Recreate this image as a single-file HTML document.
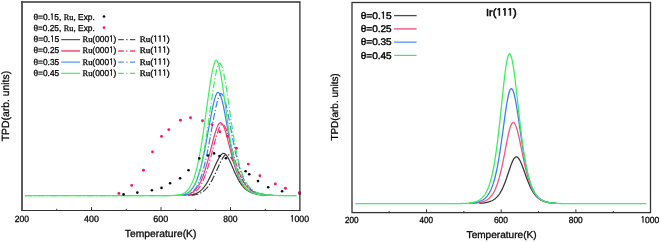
<!DOCTYPE html>
<html><head><meta charset="utf-8"><style>
html,body{margin:0;padding:0;background:#fff;}
svg{display:block;}
text{text-rendering:geometricPrecision;font-family:'Liberation Sans', Arial, sans-serif;fill:#080808;stroke:#080808;stroke-width:0.3px;}
</style></head><body>
<svg width="661" height="242" viewBox="0 0 661 242">
<rect width="661" height="242" fill="#fff"/>
<line x1="56.75" y1="210.4" x2="56.75" y2="208.8" stroke="#333" stroke-width="1"/>
<line x1="91.50" y1="210.4" x2="91.50" y2="207.1" stroke="#333" stroke-width="1"/>
<line x1="126.25" y1="210.4" x2="126.25" y2="208.8" stroke="#333" stroke-width="1"/>
<line x1="161.00" y1="210.4" x2="161.00" y2="207.1" stroke="#333" stroke-width="1"/>
<line x1="195.75" y1="210.4" x2="195.75" y2="208.8" stroke="#333" stroke-width="1"/>
<line x1="230.50" y1="210.4" x2="230.50" y2="207.1" stroke="#333" stroke-width="1"/>
<line x1="265.25" y1="210.4" x2="265.25" y2="208.8" stroke="#333" stroke-width="1"/>
<text transform="translate(14.77,221.90) scale(0.9564,1)" font-size="9.0">200</text>
<text transform="translate(84.12,221.90) scale(0.9800,1)" font-size="9.0">400</text>
<text transform="translate(153.25,221.90) scale(0.9916,1)" font-size="9.0">600</text>
<text transform="translate(223.16,221.90) scale(0.9504,1)" font-size="9.0">800</text>
<text transform="translate(290.05,221.90) scale(0.9729,1)" font-size="9.0"><tspan font-family="IPAGothic, 'Liberation Sans', sans-serif">1</tspan>000</text>
<text transform="translate(124.79,237.20) scale(1.0006,1)" font-size="10.3">Temperature(K)</text>
<text transform="translate(8.60,141.31) rotate(-90) scale(1.0003,1)" font-size="10.4">TPD(arb. units)</text>
<path d="M188.00,195.23 L188.50,195.19 L189.00,195.14 L189.50,195.08 L190.00,195.01 L190.50,194.94 L191.00,194.86 L191.50,194.78 L192.00,194.68 L192.50,194.57 L193.00,194.46 L193.50,194.33 L194.00,194.19 L194.50,194.04 L195.00,193.87 L195.50,193.69 L196.00,193.49 L196.50,193.27 L197.00,193.03 L197.50,192.78 L198.00,192.50 L198.50,192.21 L199.00,191.88 L199.50,191.54 L200.00,191.17 L200.50,190.77 L201.00,190.34 L201.50,189.89 L202.00,189.41 L202.50,188.89 L203.00,188.34 L203.50,187.76 L204.00,187.15 L204.50,186.50 L205.00,185.82 L205.50,185.10 L206.00,184.35 L206.50,183.56 L207.00,182.74 L207.50,181.89 L208.00,181.00 L208.50,180.08 L209.00,179.12 L209.50,178.14 L210.00,177.13 L210.50,176.09 L211.00,175.03 L211.50,173.95 L212.00,172.84 L212.50,171.73 L213.00,170.60 L213.50,169.46 L214.00,168.32 L214.50,167.19 L215.00,166.05 L215.50,164.93 L216.00,163.82 L216.50,162.74 L217.00,161.68 L217.50,160.66 L218.00,159.67 L218.50,158.73 L219.00,157.84 L219.50,157.02 L220.00,156.25 L220.50,155.56 L221.00,154.95 L221.50,154.42 L222.00,153.99 L222.50,153.67 L223.00,153.46 L223.50,153.40 L224.00,153.48 L224.50,153.66 L225.00,153.95 L225.50,154.34 L226.00,154.82 L226.50,155.40 L227.00,156.07 L227.50,156.82 L228.00,157.65 L228.50,158.54 L229.00,159.49 L229.50,160.50 L230.00,161.55 L230.50,162.63 L231.00,163.75 L231.50,164.88 L232.00,166.03 L232.50,167.19 L233.00,168.35 L233.50,169.51 L234.00,170.65 L234.50,171.78 L235.00,172.90 L235.50,173.99 L236.00,175.05 L236.50,176.09 L237.00,177.10 L237.50,178.07 L238.00,179.01 L238.50,179.92 L239.00,180.79 L239.50,181.62 L240.00,182.42 L240.50,183.18 L241.00,183.91 L241.50,184.60 L242.00,185.26 L242.50,185.89 L243.00,186.48 L243.50,187.04 L244.00,187.57 L244.50,188.07 L245.00,188.55 L245.50,188.99 L246.00,189.41 L246.50,189.81 L247.00,190.18 L247.50,190.53 L248.00,190.86 L248.50,191.17 L249.00,191.46 L249.50,191.73 L250.00,191.99 L250.50,192.23 L251.00,192.45 L251.50,192.66 L252.00,192.86 L252.50,193.04 L253.00,193.21 L253.50,193.37 L254.00,193.52 L254.50,193.66 L255.00,193.79 L255.50,193.91 L256.00,194.03 L256.50,194.13 L257.00,194.23 L257.50,194.33 L258.00,194.41 L258.50,194.49 L259.00,194.57 L259.50,194.64 L260.00,194.70 L260.50,194.77 L261.00,194.82 L261.50,194.88 L262.00,194.93 L262.50,194.97 L263.00,195.01 L263.50,195.05 L264.00,195.09 L264.50,195.13 L265.00,195.16 L265.50,195.19 L266.00,195.22 L266.50,195.24" fill="none" stroke="#3a3a3a" stroke-width="1.2"/>
<path d="M191.50,195.23 L192.00,195.19 L192.50,195.13 L193.00,195.08 L193.50,195.01 L194.00,194.94 L194.50,194.86 L195.00,194.77 L195.50,194.68 L196.00,194.57 L196.50,194.46 L197.00,194.33 L197.50,194.19 L198.00,194.03 L198.50,193.87 L199.00,193.68 L199.50,193.48 L200.00,193.27 L200.50,193.03 L201.00,192.78 L201.50,192.50 L202.00,192.21 L202.50,191.89 L203.00,191.54 L203.50,191.18 L204.00,190.78 L204.50,190.36 L205.00,189.91 L205.50,189.42 L206.00,188.91 L206.50,188.37 L207.00,187.79 L207.50,187.18 L208.00,186.54 L208.50,185.87 L209.00,185.16 L209.50,184.41 L210.00,183.63 L210.50,182.82 L211.00,181.97 L211.50,181.10 L212.00,180.19 L212.50,179.24 L213.00,178.27 L213.50,177.28 L214.00,176.25 L214.50,175.21 L215.00,174.14 L215.50,173.06 L216.00,171.96 L216.50,170.85 L217.00,169.74 L217.50,168.62 L218.00,167.50 L218.50,166.39 L219.00,165.29 L219.50,164.21 L220.00,163.15 L220.50,162.12 L221.00,161.12 L221.50,160.17 L222.00,159.25 L222.50,158.39 L223.00,157.59 L223.50,156.86 L224.00,156.19 L224.50,155.61 L225.00,155.11 L225.50,154.71 L226.00,154.41 L226.50,154.24 L227.00,154.21 L227.50,154.30 L228.00,154.48 L228.50,154.76 L229.00,155.13 L229.50,155.58 L230.00,156.13 L230.50,156.75 L231.00,157.45 L231.50,158.21 L232.00,159.04 L232.50,159.92 L233.00,160.85 L233.50,161.83 L234.00,162.84 L234.50,163.87 L235.00,164.93 L235.50,166.01 L236.00,167.10 L236.50,168.19 L237.00,169.28 L237.50,170.36 L238.00,171.44 L238.50,172.50 L239.00,173.54 L239.50,174.56 L240.00,175.56 L240.50,176.53 L241.00,177.48 L241.50,178.39 L242.00,179.28 L242.50,180.13 L243.00,180.96 L243.50,181.75 L244.00,182.50 L244.50,183.23 L245.00,183.92 L245.50,184.59 L246.00,185.22 L246.50,185.82 L247.00,186.39 L247.50,186.93 L248.00,187.44 L248.50,187.93 L249.00,188.39 L249.50,188.83 L250.00,189.24 L250.50,189.63 L251.00,190.00 L251.50,190.34 L252.00,190.67 L252.50,190.98 L253.00,191.27 L253.50,191.54 L254.00,191.80 L254.50,192.04 L255.00,192.26 L255.50,192.48 L256.00,192.68 L256.50,192.86 L257.00,193.04 L257.50,193.20 L258.00,193.36 L258.50,193.50 L259.00,193.64 L259.50,193.76 L260.00,193.88 L260.50,193.99 L261.00,194.10 L261.50,194.20 L262.00,194.29 L262.50,194.37 L263.00,194.45 L263.50,194.53 L264.00,194.60 L264.50,194.66 L265.00,194.73 L265.50,194.78 L266.00,194.84 L266.50,194.89 L267.00,194.93 L267.50,194.98 L268.00,195.02 L268.50,195.06 L269.00,195.09 L269.50,195.13 L270.00,195.16 L270.50,195.19 L271.00,195.21 L271.50,195.24" fill="none" stroke="#3a3a3a" stroke-width="1.2" stroke-dasharray="7,2,1.3,2.1"/>
<path d="M183.00,195.21 L183.50,195.16 L184.00,195.10 L184.50,195.04 L185.00,194.97 L185.50,194.89 L186.00,194.80 L186.50,194.70 L187.00,194.59 L187.50,194.46 L188.00,194.33 L188.50,194.18 L189.00,194.01 L189.50,193.83 L190.00,193.63 L190.50,193.41 L191.00,193.16 L191.50,192.90 L192.00,192.61 L192.50,192.29 L193.00,191.95 L193.50,191.57 L194.00,191.17 L194.50,190.73 L195.00,190.25 L195.50,189.74 L196.00,189.18 L196.50,188.58 L197.00,187.94 L197.50,187.26 L198.00,186.52 L198.50,185.74 L199.00,184.90 L199.50,184.01 L200.00,183.06 L200.50,182.06 L201.00,181.00 L201.50,179.88 L202.00,178.70 L202.50,177.46 L203.00,176.17 L203.50,174.81 L204.00,173.39 L204.50,171.91 L205.00,170.37 L205.50,168.78 L206.00,167.13 L206.50,165.44 L207.00,163.69 L207.50,161.90 L208.00,160.06 L208.50,158.19 L209.00,156.29 L209.50,154.36 L210.00,152.41 L210.50,150.45 L211.00,148.48 L211.50,146.51 L212.00,144.56 L212.50,142.62 L213.00,140.71 L213.50,138.83 L214.00,137.01 L214.50,135.24 L215.00,133.54 L215.50,131.91 L216.00,130.38 L216.50,128.95 L217.00,127.63 L217.50,126.43 L218.00,125.37 L218.50,124.47 L219.00,123.73 L219.50,123.16 L220.00,122.81 L220.50,122.70 L221.00,122.83 L221.50,123.15 L222.00,123.64 L222.50,124.32 L223.00,125.16 L223.50,126.16 L224.00,127.32 L224.50,128.61 L225.00,130.04 L225.50,131.58 L226.00,133.22 L226.50,134.96 L227.00,136.77 L227.50,138.65 L228.00,140.57 L228.50,142.54 L229.00,144.52 L229.50,146.52 L230.00,148.53 L230.50,150.52 L231.00,152.50 L231.50,154.46 L232.00,156.38 L232.50,158.26 L233.00,160.10 L233.50,161.89 L234.00,163.63 L234.50,165.32 L235.00,166.94 L235.50,168.50 L236.00,170.01 L236.50,171.45 L237.00,172.83 L237.50,174.15 L238.00,175.40 L238.50,176.60 L239.00,177.74 L239.50,178.82 L240.00,179.84 L240.50,180.81 L241.00,181.73 L241.50,182.60 L242.00,183.41 L242.50,184.19 L243.00,184.91 L243.50,185.60 L244.00,186.24 L244.50,186.85 L245.00,187.41 L245.50,187.95 L246.00,188.45 L246.50,188.92 L247.00,189.36 L247.50,189.77 L248.00,190.16 L248.50,190.52 L249.00,190.86 L249.50,191.18 L250.00,191.47 L250.50,191.75 L251.00,192.01 L251.50,192.25 L252.00,192.48 L252.50,192.69 L253.00,192.88 L253.50,193.07 L254.00,193.24 L254.50,193.40 L255.00,193.55 L255.50,193.69 L256.00,193.82 L256.50,193.94 L257.00,194.05 L257.50,194.16 L258.00,194.26 L258.50,194.35 L259.00,194.43 L259.50,194.51 L260.00,194.59 L260.50,194.66 L261.00,194.72 L261.50,194.78 L262.00,194.84 L262.50,194.89 L263.00,194.94 L263.50,194.98 L264.00,195.03 L264.50,195.07 L265.00,195.10 L265.50,195.14 L266.00,195.17 L266.50,195.20 L267.00,195.23" fill="none" stroke="#f43a72" stroke-width="1.2"/>
<path d="M184.50,195.25 L185.00,195.20 L185.50,195.15 L186.00,195.09 L186.50,195.02 L187.00,194.95 L187.50,194.87 L188.00,194.78 L188.50,194.67 L189.00,194.56 L189.50,194.44 L190.00,194.30 L190.50,194.14 L191.00,193.97 L191.50,193.79 L192.00,193.58 L192.50,193.36 L193.00,193.11 L193.50,192.84 L194.00,192.55 L194.50,192.23 L195.00,191.88 L195.50,191.50 L196.00,191.09 L196.50,190.64 L197.00,190.16 L197.50,189.64 L198.00,189.08 L198.50,188.48 L199.00,187.84 L199.50,187.15 L200.00,186.41 L200.50,185.62 L201.00,184.78 L201.50,183.88 L202.00,182.93 L202.50,181.93 L203.00,180.87 L203.50,179.75 L204.00,178.57 L204.50,177.34 L205.00,176.04 L205.50,174.69 L206.00,173.27 L206.50,171.80 L207.00,170.28 L207.50,168.69 L208.00,167.06 L208.50,165.38 L209.00,163.65 L209.50,161.88 L210.00,160.06 L210.50,158.22 L211.00,156.34 L211.50,154.45 L212.00,152.53 L212.50,150.61 L213.00,148.68 L213.50,146.76 L214.00,144.85 L214.50,142.96 L215.00,141.10 L215.50,139.28 L216.00,137.51 L216.50,135.80 L217.00,134.17 L217.50,132.61 L218.00,131.15 L218.50,129.79 L219.00,128.54 L219.50,127.42 L220.00,126.45 L220.50,125.62 L221.00,124.96 L221.50,124.49 L222.00,124.23 L222.50,124.23 L223.00,124.41 L223.50,124.76 L224.00,125.27 L224.50,125.94 L225.00,126.76 L225.50,127.73 L226.00,128.83 L226.50,130.05 L227.00,131.39 L227.50,132.84 L228.00,134.38 L228.50,136.00 L229.00,137.70 L229.50,139.45 L230.00,141.25 L230.50,143.08 L231.00,144.94 L231.50,146.82 L232.00,148.70 L232.50,150.58 L233.00,152.45 L233.50,154.30 L234.00,156.12 L234.50,157.91 L235.00,159.66 L235.50,161.38 L236.00,163.05 L236.50,164.67 L237.00,166.24 L237.50,167.75 L238.00,169.21 L238.50,170.62 L239.00,171.97 L239.50,173.27 L240.00,174.51 L240.50,175.69 L241.00,176.83 L241.50,177.90 L242.00,178.93 L242.50,179.90 L243.00,180.83 L243.50,181.71 L244.00,182.54 L244.50,183.32 L245.00,184.07 L245.50,184.77 L246.00,185.43 L246.50,186.06 L247.00,186.65 L247.50,187.21 L248.00,187.73 L248.50,188.23 L249.00,188.69 L249.50,189.13 L250.00,189.54 L250.50,189.92 L251.00,190.28 L251.50,190.62 L252.00,190.94 L252.50,191.24 L253.00,191.52 L253.50,191.78 L254.00,192.03 L254.50,192.26 L255.00,192.48 L255.50,192.68 L256.00,192.87 L256.50,193.05 L257.00,193.21 L257.50,193.37 L258.00,193.51 L258.50,193.65 L259.00,193.78 L259.50,193.90 L260.00,194.01 L260.50,194.11 L261.00,194.21 L261.50,194.30 L262.00,194.39 L262.50,194.47 L263.00,194.54 L263.50,194.61 L264.00,194.67 L264.50,194.74 L265.00,194.79 L265.50,194.85 L266.00,194.90 L266.50,194.94 L267.00,194.99 L267.50,195.03 L268.00,195.06 L268.50,195.10 L269.00,195.13 L269.50,195.16 L270.00,195.19 L270.50,195.22 L271.00,195.24" fill="none" stroke="#f43a72" stroke-width="1.2" stroke-dasharray="7,2,1.3,2.1"/>
<path d="M179.00,195.24 L179.50,195.19 L180.00,195.13 L180.50,195.07 L181.00,195.00 L181.50,194.92 L182.00,194.83 L182.50,194.73 L183.00,194.61 L183.50,194.49 L184.00,194.35 L184.50,194.20 L185.00,194.03 L185.50,193.84 L186.00,193.63 L186.50,193.40 L187.00,193.14 L187.50,192.86 L188.00,192.56 L188.50,192.22 L189.00,191.85 L189.50,191.45 L190.00,191.01 L190.50,190.53 L191.00,190.00 L191.50,189.44 L192.00,188.82 L192.50,188.16 L193.00,187.44 L193.50,186.67 L194.00,185.83 L194.50,184.94 L195.00,183.98 L195.50,182.95 L196.00,181.85 L196.50,180.68 L197.00,179.43 L197.50,178.11 L198.00,176.70 L198.50,175.22 L199.00,173.65 L199.50,172.00 L200.00,170.26 L200.50,168.44 L201.00,166.53 L201.50,164.53 L202.00,162.46 L202.50,160.30 L203.00,158.06 L203.50,155.74 L204.00,153.34 L204.50,150.88 L205.00,148.35 L205.50,145.77 L206.00,143.13 L206.50,140.44 L207.00,137.71 L207.50,134.96 L208.00,132.18 L208.50,129.39 L209.00,126.60 L209.50,123.82 L210.00,121.07 L210.50,118.35 L211.00,115.69 L211.50,113.08 L212.00,110.56 L212.50,108.13 L213.00,105.80 L213.50,103.60 L214.00,101.54 L214.50,99.64 L215.00,97.91 L215.50,96.37 L216.00,95.04 L216.50,93.94 L217.00,93.10 L217.50,92.53 L218.00,92.30 L218.50,92.43 L219.00,92.83 L219.50,93.48 L220.00,94.38 L220.50,95.53 L221.00,96.90 L221.50,98.50 L222.00,100.29 L222.50,102.28 L223.00,104.43 L223.50,106.74 L224.00,109.17 L224.50,111.72 L225.00,114.36 L225.50,117.08 L226.00,119.85 L226.50,122.66 L227.00,125.49 L227.50,128.33 L228.00,131.16 L228.50,133.97 L229.00,136.75 L229.50,139.48 L230.00,142.17 L230.50,144.79 L231.00,147.34 L231.50,149.82 L232.00,152.22 L232.50,154.54 L233.00,156.77 L233.50,158.92 L234.00,160.98 L234.50,162.95 L235.00,164.83 L235.50,166.63 L236.00,168.35 L236.50,169.97 L237.00,171.52 L237.50,172.99 L238.00,174.38 L238.50,175.69 L239.00,176.93 L239.50,178.11 L240.00,179.21 L240.50,180.25 L241.00,181.24 L241.50,182.16 L242.00,183.03 L242.50,183.84 L243.00,184.61 L243.50,185.33 L244.00,186.00 L244.50,186.63 L245.00,187.23 L245.50,187.78 L246.00,188.30 L246.50,188.79 L247.00,189.24 L247.50,189.67 L248.00,190.07 L248.50,190.44 L249.00,190.79 L249.50,191.11 L250.00,191.41 L250.50,191.70 L251.00,191.96 L251.50,192.21 L252.00,192.44 L252.50,192.65 L253.00,192.85 L253.50,193.04 L254.00,193.21 L254.50,193.38 L255.00,193.53 L255.50,193.67 L256.00,193.80 L256.50,193.93 L257.00,194.04 L257.50,194.15 L258.00,194.25 L258.50,194.34 L259.00,194.43 L259.50,194.51 L260.00,194.58 L260.50,194.65 L261.00,194.72 L261.50,194.78 L262.00,194.83 L262.50,194.89 L263.00,194.93 L263.50,194.98 L264.00,195.02 L264.50,195.06 L265.00,195.10 L265.50,195.13 L266.00,195.17 L266.50,195.20 L267.00,195.22 L267.50,195.25" fill="none" stroke="#3f7fef" stroke-width="1.2"/>
<path d="M182.00,195.24 L182.50,195.19 L183.00,195.14 L183.50,195.07 L184.00,195.00 L184.50,194.92 L185.00,194.84 L185.50,194.74 L186.00,194.63 L186.50,194.50 L187.00,194.37 L187.50,194.21 L188.00,194.05 L188.50,193.86 L189.00,193.65 L189.50,193.42 L190.00,193.17 L190.50,192.90 L191.00,192.59 L191.50,192.26 L192.00,191.90 L192.50,191.50 L193.00,191.06 L193.50,190.59 L194.00,190.07 L194.50,189.51 L195.00,188.91 L195.50,188.25 L196.00,187.54 L196.50,186.78 L197.00,185.96 L197.50,185.07 L198.00,184.12 L198.50,183.11 L199.00,182.02 L199.50,180.87 L200.00,179.64 L200.50,178.33 L201.00,176.94 L201.50,175.48 L202.00,173.93 L202.50,172.29 L203.00,170.58 L203.50,168.78 L204.00,166.89 L204.50,164.93 L205.00,162.87 L205.50,160.74 L206.00,158.53 L206.50,156.24 L207.00,153.88 L207.50,151.45 L208.00,148.95 L208.50,146.39 L209.00,143.79 L209.50,141.13 L210.00,138.44 L210.50,135.72 L211.00,132.98 L211.50,130.22 L212.00,127.47 L212.50,124.73 L213.00,122.01 L213.50,119.33 L214.00,116.69 L214.50,114.12 L215.00,111.63 L215.50,109.23 L216.00,106.93 L216.50,104.76 L217.00,102.73 L217.50,100.85 L218.00,99.14 L218.50,97.62 L219.00,96.31 L219.50,95.22 L220.00,94.39 L220.50,93.83 L221.00,93.60 L221.50,93.72 L222.00,94.08 L222.50,94.67 L223.00,95.49 L223.50,96.53 L224.00,97.79 L224.50,99.24 L225.00,100.89 L225.50,102.71 L226.00,104.69 L226.50,106.81 L227.00,109.06 L227.50,111.42 L228.00,113.87 L228.50,116.40 L229.00,119.00 L229.50,121.63 L230.00,124.30 L230.50,126.99 L231.00,129.68 L231.50,132.35 L232.00,135.01 L232.50,137.64 L233.00,140.23 L233.50,142.77 L234.00,145.25 L234.50,147.67 L235.00,150.03 L235.50,152.31 L236.00,154.53 L236.50,156.66 L237.00,158.72 L237.50,160.70 L238.00,162.60 L238.50,164.42 L239.00,166.16 L239.50,167.82 L240.00,169.40 L240.50,170.91 L241.00,172.35 L241.50,173.71 L242.00,175.01 L242.50,176.23 L243.00,177.40 L243.50,178.49 L244.00,179.53 L244.50,180.52 L245.00,181.44 L245.50,182.32 L246.00,183.14 L246.50,183.92 L247.00,184.65 L247.50,185.33 L248.00,185.98 L248.50,186.59 L249.00,187.16 L249.50,187.70 L250.00,188.20 L250.50,188.67 L251.00,189.12 L251.50,189.53 L252.00,189.92 L252.50,190.29 L253.00,190.63 L253.50,190.95 L254.00,191.25 L254.50,191.54 L255.00,191.80 L255.50,192.05 L256.00,192.28 L256.50,192.50 L257.00,192.70 L257.50,192.89 L258.00,193.06 L258.50,193.23 L259.00,193.39 L259.50,193.53 L260.00,193.67 L260.50,193.79 L261.00,193.91 L261.50,194.02 L262.00,194.13 L262.50,194.22 L263.00,194.31 L263.50,194.40 L264.00,194.48 L264.50,194.55 L265.00,194.62 L265.50,194.69 L266.00,194.75 L266.50,194.80 L267.00,194.85 L267.50,194.90 L268.00,194.95 L268.50,194.99 L269.00,195.03 L269.50,195.07 L270.00,195.11 L270.50,195.14 L271.00,195.17 L271.50,195.20 L272.00,195.22 L272.50,195.25" fill="none" stroke="#3f7fef" stroke-width="1.2" stroke-dasharray="7,2,1.3,2.1"/>
<path d="M25.00,195.60 L166.00,195.58 L166.50,195.58 L167.00,195.57 L167.50,195.57 L168.00,195.56 L168.50,195.56 L169.00,195.55 L169.50,195.54 L170.00,195.53 L170.50,195.52 L171.00,195.51 L171.50,195.50 L172.00,195.48 L172.50,195.46 L173.00,195.44 L173.50,195.42 L174.00,195.39 L174.50,195.36 L175.00,195.33 L175.50,195.29 L176.00,195.24 L176.50,195.19 L177.00,195.14 L177.50,195.07 L178.00,195.00 L178.50,194.92 L179.00,194.83 L179.50,194.73 L180.00,194.61 L180.50,194.48 L181.00,194.34 L181.50,194.18 L182.00,194.00 L182.50,193.80 L183.00,193.58 L183.50,193.34 L184.00,193.07 L184.50,192.78 L185.00,192.45 L185.50,192.09 L186.00,191.70 L186.50,191.26 L187.00,190.79 L187.50,190.27 L188.00,189.70 L188.50,189.08 L189.00,188.41 L189.50,187.68 L190.00,186.89 L190.50,186.03 L191.00,185.11 L191.50,184.11 L192.00,183.03 L192.50,181.87 L193.00,180.63 L193.50,179.31 L194.00,177.89 L194.50,176.37 L195.00,174.76 L195.50,173.04 L196.00,171.23 L196.50,169.30 L197.00,167.27 L197.50,165.13 L198.00,162.87 L198.50,160.51 L199.00,158.03 L199.50,155.44 L200.00,152.74 L200.50,149.93 L201.00,147.02 L201.50,144.00 L202.00,140.89 L202.50,137.68 L203.00,134.39 L203.50,131.01 L204.00,127.57 L204.50,124.06 L205.00,120.50 L205.50,116.89 L206.00,113.26 L206.50,109.61 L207.00,105.96 L207.50,102.32 L208.00,98.70 L208.50,95.13 L209.00,91.63 L209.50,88.20 L210.00,84.87 L210.50,81.66 L211.00,78.58 L211.50,75.67 L212.00,72.93 L212.50,70.40 L213.00,68.08 L213.50,66.02 L214.00,64.22 L214.50,62.72 L215.00,61.54 L215.50,60.72 L216.00,60.32 L216.50,60.41 L217.00,60.86 L217.50,61.64 L218.00,62.76 L218.50,64.20 L219.00,65.94 L219.50,67.98 L220.00,70.28 L220.50,72.83 L221.00,75.61 L221.50,78.59 L222.00,81.75 L222.50,85.06 L223.00,88.49 L223.50,92.03 L224.00,95.65 L224.50,99.32 L225.00,103.03 L225.50,106.75 L226.00,110.46 L226.50,114.15 L227.00,117.80 L227.50,121.39 L228.00,124.92 L228.50,128.36 L229.00,131.73 L229.50,134.99 L230.00,138.16 L230.50,141.22 L231.00,144.16 L231.50,147.00 L232.00,149.72 L232.50,152.33 L233.00,154.82 L233.50,157.20 L234.00,159.46 L234.50,161.62 L235.00,163.67 L235.50,165.61 L236.00,167.45 L236.50,169.19 L237.00,170.83 L237.50,172.39 L238.00,173.85 L238.50,175.23 L239.00,176.53 L239.50,177.76 L240.00,178.91 L240.50,179.99 L241.00,181.01 L241.50,181.96 L242.00,182.86 L242.50,183.70 L243.00,184.48 L243.50,185.22 L244.00,185.91 L244.50,186.55 L245.00,187.16 L245.50,187.72 L246.00,188.25 L246.50,188.74 L247.00,189.21 L247.50,189.64 L248.00,190.04 L248.50,190.41 L249.00,190.77 L249.50,191.09 L250.00,191.40 L250.50,191.68 L251.00,191.95 L251.50,192.20 L252.00,192.43 L252.50,192.65 L253.00,192.85 L253.50,193.04 L254.00,193.21 L254.50,193.37 L255.00,193.53 L255.50,193.67 L256.00,193.80 L256.50,193.92 L257.00,194.04 L257.50,194.15 L258.00,194.25 L258.50,194.34 L259.00,194.43 L259.50,194.51 L260.00,194.58 L260.50,194.65 L261.00,194.72 L261.50,194.78 L262.00,194.83 L262.50,194.89 L263.00,194.94 L263.50,194.98 L264.00,195.02 L264.50,195.06 L265.00,195.10 L265.50,195.13 L266.00,195.17 L266.50,195.20 L267.00,195.22 L267.50,195.25 L268.00,195.27 L268.50,195.30 L269.00,195.32 L269.50,195.34 L270.00,195.36 L270.50,195.37 L271.00,195.39 L271.50,195.40 L272.00,195.42 L272.50,195.43 L273.00,195.44 L273.50,195.45 L274.00,195.46 L274.50,195.47 L275.00,195.48 L275.50,195.49 L276.00,195.50 L276.50,195.50 L277.00,195.51 L277.50,195.52 L278.00,195.52 L278.50,195.53 L279.00,195.53 L279.50,195.54 L280.00,195.54 L280.50,195.55 L281.00,195.55 L281.50,195.55 L282.00,195.56 L282.50,195.56 L283.00,195.56 L283.50,195.56 L284.00,195.57 L284.50,195.57 L285.00,195.57 L285.50,195.57 L286.00,195.58 L286.50,195.58 L287.00,195.58 L287.50,195.58 L288.00,195.58 L296.50,195.59" fill="none" stroke="#3cef5e" stroke-width="1.2"/>
<path d="M25.00,195.60 L169.50,195.58 L170.00,195.58 L170.50,195.57 L171.00,195.57 L171.50,195.57 L172.00,195.56 L172.50,195.55 L173.00,195.55 L173.50,195.54 L174.00,195.53 L174.50,195.51 L175.00,195.50 L175.50,195.49 L176.00,195.47 L176.50,195.45 L177.00,195.42 L177.50,195.40 L178.00,195.37 L178.50,195.33 L179.00,195.30 L179.50,195.25 L180.00,195.20 L180.50,195.15 L181.00,195.08 L181.50,195.01 L182.00,194.93 L182.50,194.84 L183.00,194.74 L183.50,194.63 L184.00,194.51 L184.50,194.37 L185.00,194.21 L185.50,194.04 L186.00,193.84 L186.50,193.63 L187.00,193.39 L187.50,193.13 L188.00,192.84 L188.50,192.52 L189.00,192.17 L189.50,191.78 L190.00,191.36 L190.50,190.89 L191.00,190.38 L191.50,189.83 L192.00,189.22 L192.50,188.57 L193.00,187.85 L193.50,187.08 L194.00,186.24 L194.50,185.33 L195.00,184.35 L195.50,183.30 L196.00,182.17 L196.50,180.96 L197.00,179.66 L197.50,178.27 L198.00,176.78 L198.50,175.21 L199.00,173.53 L199.50,171.75 L200.00,169.87 L200.50,167.88 L201.00,165.78 L201.50,163.58 L202.00,161.26 L202.50,158.84 L203.00,156.30 L203.50,153.66 L204.00,150.91 L204.50,148.06 L205.00,145.11 L205.50,142.06 L206.00,138.92 L206.50,135.70 L207.00,132.40 L207.50,129.03 L208.00,125.59 L208.50,122.11 L209.00,118.58 L209.50,115.03 L210.00,111.45 L210.50,107.88 L211.00,104.32 L211.50,100.78 L212.00,97.29 L212.50,93.85 L213.00,90.50 L213.50,87.24 L214.00,84.10 L214.50,81.09 L215.00,78.24 L215.50,75.56 L216.00,73.08 L216.50,70.82 L217.00,68.79 L217.50,67.04 L218.00,65.56 L218.50,64.41 L219.00,63.61 L219.50,63.22 L220.00,63.30 L220.50,63.70 L221.00,64.41 L221.50,65.42 L222.00,66.71 L222.50,68.29 L223.00,70.13 L223.50,72.22 L224.00,74.53 L224.50,77.06 L225.00,79.78 L225.50,82.67 L226.00,85.70 L226.50,88.87 L227.00,92.14 L227.50,95.49 L228.00,98.90 L228.50,102.36 L229.00,105.84 L229.50,109.33 L230.00,112.81 L230.50,116.27 L231.00,119.69 L231.50,123.06 L232.00,126.37 L232.50,129.60 L233.00,132.77 L233.50,135.84 L234.00,138.83 L234.50,141.72 L235.00,144.51 L235.50,147.20 L236.00,149.79 L236.50,152.28 L237.00,154.66 L237.50,156.94 L238.00,159.12 L238.50,161.19 L239.00,163.17 L239.50,165.05 L240.00,166.84 L240.50,168.54 L241.00,170.15 L241.50,171.67 L242.00,173.12 L242.50,174.48 L243.00,175.77 L243.50,176.99 L244.00,178.14 L244.50,179.22 L245.00,180.24 L245.50,181.20 L246.00,182.10 L246.50,182.95 L247.00,183.75 L247.50,184.50 L248.00,185.21 L248.50,185.87 L249.00,186.49 L249.50,187.07 L250.00,187.62 L250.50,188.13 L251.00,188.61 L251.50,189.07 L252.00,189.49 L252.50,189.88 L253.00,190.25 L253.50,190.60 L254.00,190.93 L254.50,191.23 L255.00,191.52 L255.50,191.78 L256.00,192.03 L256.50,192.26 L257.00,192.48 L257.50,192.69 L258.00,192.88 L258.50,193.06 L259.00,193.22 L259.50,193.38 L260.00,193.52 L260.50,193.66 L261.00,193.79 L261.50,193.91 L262.00,194.02 L262.50,194.12 L263.00,194.22 L263.50,194.31 L264.00,194.40 L264.50,194.48 L265.00,194.55 L265.50,194.62 L266.00,194.68 L266.50,194.74 L267.00,194.80 L267.50,194.85 L268.00,194.90 L268.50,194.95 L269.00,194.99 L269.50,195.03 L270.00,195.07 L270.50,195.10 L271.00,195.14 L271.50,195.17 L272.00,195.20 L272.50,195.22 L273.00,195.25 L273.50,195.27 L274.00,195.29 L274.50,195.31 L275.00,195.33 L275.50,195.35 L276.00,195.37 L276.50,195.38 L277.00,195.40 L277.50,195.41 L278.00,195.42 L278.50,195.43 L279.00,195.45 L279.50,195.46 L280.00,195.46 L280.50,195.47 L281.00,195.48 L281.50,195.49 L282.00,195.50 L282.50,195.50 L283.00,195.51 L283.50,195.52 L284.00,195.52 L284.50,195.53 L285.00,195.53 L285.50,195.54 L286.00,195.54 L286.50,195.54 L287.00,195.55 L287.50,195.55 L288.00,195.55 L288.50,195.56 L289.00,195.56 L289.50,195.56 L290.00,195.57 L290.50,195.57 L291.00,195.57 L291.50,195.57 L292.00,195.57 L292.50,195.58 L293.00,195.58 L293.50,195.58 L294.00,195.58 L296.50,195.59" fill="none" stroke="#3cef5e" stroke-width="1.2" stroke-dasharray="7,2,1.3,2.1"/>
<circle cx="123.6" cy="194.4" r="1.3" fill="#0a0a1e"/>
<circle cx="137.3" cy="192.6" r="1.3" fill="#0a0a1e"/>
<circle cx="151.9" cy="190.3" r="1.3" fill="#0a0a1e"/>
<circle cx="161.5" cy="187.9" r="1.3" fill="#0a0a1e"/>
<circle cx="170.1" cy="183.3" r="1.3" fill="#0a0a1e"/>
<circle cx="180.1" cy="178.3" r="1.3" fill="#0a0a1e"/>
<circle cx="188.5" cy="170.3" r="1.3" fill="#0a0a1e"/>
<circle cx="199.3" cy="158.4" r="1.3" fill="#0a0a1e"/>
<circle cx="208" cy="155.5" r="1.3" fill="#0a0a1e"/>
<circle cx="214.1" cy="153.4" r="1.3" fill="#0a0a1e"/>
<circle cx="219.5" cy="156" r="1.3" fill="#0a0a1e"/>
<circle cx="225.9" cy="158.3" r="1.3" fill="#0a0a1e"/>
<circle cx="245.6" cy="171.2" r="1.3" fill="#0a0a1e"/>
<circle cx="249.2" cy="174.2" r="1.3" fill="#0a0a1e"/>
<circle cx="258" cy="181.1" r="1.3" fill="#0a0a1e"/>
<circle cx="268.2" cy="187.2" r="1.3" fill="#0a0a1e"/>
<circle cx="282.1" cy="191.3" r="1.3" fill="#0a0a1e"/>
<circle cx="299.5" cy="193.6" r="1.3" fill="#0a0a1e"/>
<circle cx="118.9" cy="193.5" r="1.45" fill="#f81862"/>
<circle cx="131.7" cy="185.4" r="1.45" fill="#f81862"/>
<circle cx="143.5" cy="170.2" r="1.45" fill="#f81862"/>
<circle cx="152.5" cy="151.9" r="1.45" fill="#f81862"/>
<circle cx="161.5" cy="136.4" r="1.45" fill="#f81862"/>
<circle cx="168.8" cy="129.6" r="1.45" fill="#f81862"/>
<circle cx="180.4" cy="120.2" r="1.45" fill="#f81862"/>
<circle cx="190.5" cy="117.7" r="1.45" fill="#f81862"/>
<circle cx="202.5" cy="120.7" r="1.45" fill="#f81862"/>
<circle cx="212.1" cy="124.6" r="1.45" fill="#f81862"/>
<circle cx="219.9" cy="131.7" r="1.45" fill="#f81862"/>
<circle cx="227.6" cy="136.1" r="1.45" fill="#f81862"/>
<circle cx="236.4" cy="148.3" r="1.45" fill="#f81862"/>
<circle cx="248.3" cy="164.1" r="1.45" fill="#f81862"/>
<circle cx="259.9" cy="175.8" r="1.45" fill="#f81862"/>
<circle cx="275.3" cy="183.9" r="1.45" fill="#f81862"/>
<circle cx="285.4" cy="188.2" r="1.45" fill="#f81862"/>
<circle cx="299.4" cy="192.8" r="1.45" fill="#f81862"/>
<path d="M21.1,2 H300.6 M299.9,1.3 V211" fill="none" stroke="#333" stroke-width="1.3"/>
<path d="M300.5,210.45 H21.1" fill="none" stroke="#333" stroke-width="1.15"/>
<line x1="22" y1="1.3" x2="22" y2="211" stroke="#4a4a4a" stroke-width="1.8"/>
<text transform="translate(33.38,19.60) scale(0.9831,1)" font-size="8.6">θ=0.<tspan font-family="IPAGothic, 'Liberation Sans', sans-serif">1</tspan>5,</text>
<text transform="translate(63.75,19.60) scale(0.9617,1)" font-size="8.6"><tspan font-family="'Liberation Serif', 'Times New Roman', serif">Ru</tspan>,</text>
<text transform="translate(78.03,19.60) scale(0.9785,1)" font-size="8.6">Exp.</text>
<circle cx="104" cy="16.50" r="1.35" fill="#0a0a1e"/>
<text transform="translate(33.39,30.80) scale(0.9648,1)" font-size="8.6">θ=0.25,</text>
<text transform="translate(63.75,30.80) scale(0.9617,1)" font-size="8.6"><tspan font-family="'Liberation Serif', 'Times New Roman', serif">Ru</tspan>,</text>
<text transform="translate(78.03,30.80) scale(0.9785,1)" font-size="8.6">Exp.</text>
<circle cx="104" cy="27.70" r="1.35" fill="#f81862"/>
<text transform="translate(33.48,42.10) scale(0.9848,1)" font-size="8.6">θ=0.<tspan font-family="IPAGothic, 'Liberation Sans', sans-serif">1</tspan>5</text>
<line x1="61.2" y1="39.70" x2="80" y2="39.70" stroke="#222222" stroke-width="0.95"/>
<text transform="translate(82.55,42.10) scale(0.9784,1)" font-size="8.6"><tspan font-family="'Liberation Serif', 'Times New Roman', serif">Ru</tspan>(000<tspan font-family="IPAGothic, 'Liberation Sans', sans-serif">1</tspan>)</text>
<line x1="118.2" y1="39.70" x2="135.3" y2="39.70" stroke="#222222" stroke-width="0.95" stroke-dasharray="5.6,2.4,1.3,2.5"/>
<text transform="translate(139.73,42.10) scale(1.0515,1)" font-size="8.6"><tspan font-family="'Liberation Serif', 'Times New Roman', serif">Ru</tspan>(<tspan font-family="IPAGothic, 'Liberation Sans', sans-serif">111</tspan>)</text>
<text transform="translate(33.48,53.30) scale(0.9683,1)" font-size="8.6">θ=0.25</text>
<line x1="61.2" y1="50.90" x2="80" y2="50.90" stroke="#f27592" stroke-width="2.0"/>
<text transform="translate(82.55,53.30) scale(0.9784,1)" font-size="8.6"><tspan font-family="'Liberation Serif', 'Times New Roman', serif">Ru</tspan>(000<tspan font-family="IPAGothic, 'Liberation Sans', sans-serif">1</tspan>)</text>
<line x1="118.2" y1="50.90" x2="135.3" y2="50.90" stroke="#f27592" stroke-width="2.0" stroke-dasharray="5.6,2.4,1.3,2.5"/>
<text transform="translate(139.73,53.30) scale(1.0515,1)" font-size="8.6"><tspan font-family="'Liberation Serif', 'Times New Roman', serif">Ru</tspan>(<tspan font-family="IPAGothic, 'Liberation Sans', sans-serif">111</tspan>)</text>
<text transform="translate(33.48,64.50) scale(0.9683,1)" font-size="8.6">θ=0.35</text>
<line x1="61.2" y1="62.10" x2="80" y2="62.10" stroke="#5590f0" stroke-width="1.15"/>
<text transform="translate(82.55,64.50) scale(0.9784,1)" font-size="8.6"><tspan font-family="'Liberation Serif', 'Times New Roman', serif">Ru</tspan>(000<tspan font-family="IPAGothic, 'Liberation Sans', sans-serif">1</tspan>)</text>
<line x1="118.2" y1="62.10" x2="135.3" y2="62.10" stroke="#5590f0" stroke-width="1.15" stroke-dasharray="5.6,2.4,1.3,2.5"/>
<text transform="translate(139.73,64.50) scale(1.0515,1)" font-size="8.6"><tspan font-family="'Liberation Serif', 'Times New Roman', serif">Ru</tspan>(<tspan font-family="IPAGothic, 'Liberation Sans', sans-serif">111</tspan>)</text>
<text transform="translate(33.48,75.70) scale(0.9683,1)" font-size="8.6">θ=0.45</text>
<line x1="61.2" y1="73.30" x2="80" y2="73.30" stroke="#4ae86a" stroke-width="1.15"/>
<text transform="translate(82.55,75.70) scale(0.9784,1)" font-size="8.6"><tspan font-family="'Liberation Serif', 'Times New Roman', serif">Ru</tspan>(000<tspan font-family="IPAGothic, 'Liberation Sans', sans-serif">1</tspan>)</text>
<line x1="118.2" y1="73.30" x2="135.3" y2="73.30" stroke="#4ae86a" stroke-width="1.15" stroke-dasharray="5.6,2.4,1.3,2.5"/>
<text transform="translate(139.73,75.70) scale(1.0515,1)" font-size="8.6"><tspan font-family="'Liberation Serif', 'Times New Roman', serif">Ru</tspan>(<tspan font-family="IPAGothic, 'Liberation Sans', sans-serif">111</tspan>)</text>
<rect x="352" y="2.5" width="298.5" height="210.1" fill="none" stroke="#333" stroke-width="1.3"/>
<line x1="389.15" y1="212.6" x2="389.15" y2="211.0" stroke="#333" stroke-width="1"/>
<line x1="426.50" y1="212.6" x2="426.50" y2="209.29999999999998" stroke="#333" stroke-width="1"/>
<line x1="463.85" y1="212.6" x2="463.85" y2="211.0" stroke="#333" stroke-width="1"/>
<line x1="501.20" y1="212.6" x2="501.20" y2="209.29999999999998" stroke="#333" stroke-width="1"/>
<line x1="538.55" y1="212.6" x2="538.55" y2="211.0" stroke="#333" stroke-width="1"/>
<line x1="575.90" y1="212.6" x2="575.90" y2="209.29999999999998" stroke="#333" stroke-width="1"/>
<line x1="613.25" y1="212.6" x2="613.25" y2="211.0" stroke="#333" stroke-width="1"/>
<text transform="translate(344.89,223.30) scale(0.9174,1)" font-size="8.9">200</text>
<text transform="translate(419.54,223.30) scale(0.9142,1)" font-size="8.9">400</text>
<text transform="translate(493.88,223.30) scale(0.9458,1)" font-size="8.9">600</text>
<text transform="translate(568.77,223.30) scale(0.9399,1)" font-size="8.9">800</text>
<text transform="translate(640.67,223.30) scale(0.9671,1)" font-size="8.9"><tspan font-family="IPAGothic, 'Liberation Sans', sans-serif">1</tspan>000</text>
<text transform="translate(466.60,238.10) scale(1.0278,1)" font-size="9.8">Temperature(K)</text>
<text transform="translate(338.40,140.60) rotate(-90) scale(0.9827,1)" font-size="10.1">TPD(arb. units)</text>
<text transform="translate(486.01,16.40) scale(1.0705,1)" font-size="10.3" style="stroke-width:0.55px">Ir(<tspan font-family="IPAGothic, 'Liberation Sans', sans-serif">111</tspan>)</text>
<path d="M479.30,203.33 L479.80,203.30 L480.30,203.26 L480.80,203.22 L481.30,203.18 L481.80,203.14 L482.30,203.09 L482.80,203.03 L483.30,202.98 L483.80,202.91 L484.30,202.84 L484.80,202.77 L485.30,202.69 L485.80,202.60 L486.30,202.51 L486.80,202.40 L487.30,202.29 L487.80,202.17 L488.30,202.04 L488.80,201.89 L489.30,201.74 L489.80,201.57 L490.30,201.39 L490.80,201.19 L491.30,200.98 L491.80,200.75 L492.30,200.50 L492.80,200.23 L493.30,199.94 L493.80,199.62 L494.30,199.28 L494.80,198.91 L495.30,198.52 L495.80,198.09 L496.30,197.63 L496.80,197.14 L497.30,196.61 L497.80,196.04 L498.30,195.43 L498.80,194.78 L499.30,194.08 L499.80,193.34 L500.30,192.55 L500.80,191.70 L501.30,190.81 L501.80,189.86 L502.30,188.86 L502.80,187.80 L503.30,186.68 L503.80,185.52 L504.30,184.30 L504.80,183.02 L505.30,181.70 L505.80,180.33 L506.30,178.92 L506.80,177.48 L507.30,176.00 L507.80,174.51 L508.30,173.00 L508.80,171.48 L509.30,169.98 L509.80,168.49 L510.30,167.04 L510.80,165.63 L511.30,164.28 L511.80,163.00 L512.30,161.81 L512.80,160.73 L513.30,159.75 L513.80,158.91 L514.30,158.20 L514.80,157.64 L515.30,157.23 L515.80,156.98 L516.30,156.90 L516.80,156.97 L517.30,157.19 L517.80,157.55 L518.30,158.04 L518.80,158.67 L519.30,159.42 L519.80,160.28 L520.30,161.25 L520.80,162.32 L521.30,163.47 L521.80,164.69 L522.30,165.97 L522.80,167.30 L523.30,168.67 L523.80,170.06 L524.30,171.47 L524.80,172.89 L525.30,174.30 L525.80,175.71 L526.30,177.10 L526.80,178.46 L527.30,179.79 L527.80,181.09 L528.30,182.35 L528.80,183.57 L529.30,184.74 L529.80,185.87 L530.30,186.95 L530.80,187.99 L531.30,188.97 L531.80,189.91 L532.30,190.79 L532.80,191.64 L533.30,192.43 L533.80,193.18 L534.30,193.89 L534.80,194.56 L535.30,195.18 L535.80,195.77 L536.30,196.32 L536.80,196.84 L537.30,197.32 L537.80,197.77 L538.30,198.19 L538.80,198.59 L539.30,198.95 L539.80,199.30 L540.30,199.61 L540.80,199.91 L541.30,200.19 L541.80,200.44 L542.30,200.68 L542.80,200.90 L543.30,201.11 L543.80,201.30 L544.30,201.48 L544.80,201.64 L545.30,201.79 L545.80,201.94 L546.30,202.07 L546.80,202.19 L547.30,202.30 L547.80,202.41 L548.30,202.50 L548.80,202.59 L549.30,202.68 L549.80,202.75 L550.30,202.82 L550.80,202.89 L551.30,202.95 L551.80,203.01 L552.30,203.06 L552.80,203.11 L553.30,203.15 L553.80,203.19 L554.30,203.23 L554.80,203.27 L555.30,203.30 L555.80,203.33" fill="none" stroke="#3a3a3a" stroke-width="1.3"/>
<path d="M472.80,203.34 L473.30,203.30 L473.80,203.27 L474.30,203.23 L474.80,203.19 L475.30,203.15 L475.80,203.10 L476.30,203.04 L476.80,202.99 L477.30,202.93 L477.80,202.86 L478.30,202.78 L478.80,202.70 L479.30,202.62 L479.80,202.52 L480.30,202.42 L480.80,202.31 L481.30,202.19 L481.80,202.06 L482.30,201.92 L482.80,201.76 L483.30,201.59 L483.80,201.41 L484.30,201.21 L484.80,201.00 L485.30,200.77 L485.80,200.52 L486.30,200.24 L486.80,199.95 L487.30,199.63 L487.80,199.28 L488.30,198.90 L488.80,198.50 L489.30,198.06 L489.80,197.58 L490.30,197.07 L490.80,196.51 L491.30,195.91 L491.80,195.26 L492.30,194.57 L492.80,193.82 L493.30,193.01 L493.80,192.14 L494.30,191.21 L494.80,190.21 L495.30,189.14 L495.80,187.99 L496.30,186.77 L496.80,185.46 L497.30,184.06 L497.80,182.58 L498.30,181.01 L498.80,179.35 L499.30,177.59 L499.80,175.73 L500.30,173.78 L500.80,171.74 L501.30,169.60 L501.80,167.37 L502.30,165.06 L502.80,162.67 L503.30,160.21 L503.80,157.70 L504.30,155.13 L504.80,152.53 L505.30,149.90 L505.80,147.28 L506.30,144.67 L506.80,142.10 L507.30,139.59 L507.80,137.17 L508.30,134.85 L508.80,132.66 L509.30,130.63 L509.80,128.78 L510.30,127.14 L510.80,125.72 L511.30,124.54 L511.80,123.61 L512.30,122.96 L512.80,122.59 L513.30,122.51 L513.80,122.68 L514.30,123.11 L514.80,123.78 L515.30,124.68 L515.80,125.81 L516.30,127.15 L516.80,128.69 L517.30,130.41 L517.80,132.29 L518.30,134.31 L518.80,136.45 L519.30,138.69 L519.80,141.01 L520.30,143.40 L520.80,145.82 L521.30,148.27 L521.80,150.73 L522.30,153.19 L522.80,155.62 L523.30,158.02 L523.80,160.37 L524.30,162.68 L524.80,164.92 L525.30,167.09 L525.80,169.19 L526.30,171.21 L526.80,173.15 L527.30,175.01 L527.80,176.78 L528.30,178.47 L528.80,180.08 L529.30,181.61 L529.80,183.05 L530.30,184.42 L530.80,185.70 L531.30,186.92 L531.80,188.06 L532.30,189.13 L532.80,190.14 L533.30,191.08 L533.80,191.96 L534.30,192.79 L534.80,193.56 L535.30,194.29 L535.80,194.96 L536.30,195.59 L536.80,196.17 L537.30,196.72 L537.80,197.22 L538.30,197.70 L538.80,198.13 L539.30,198.54 L539.80,198.92 L540.30,199.27 L540.80,199.60 L541.30,199.90 L541.80,200.18 L542.30,200.45 L542.80,200.69 L543.30,200.91 L543.80,201.12 L544.30,201.31 L544.80,201.49 L545.30,201.66 L545.80,201.81 L546.30,201.95 L546.80,202.08 L547.30,202.20 L547.80,202.31 L548.30,202.42 L548.80,202.52 L549.30,202.60 L549.80,202.69 L550.30,202.76 L550.80,202.83 L551.30,202.90 L551.80,202.96 L552.30,203.02 L552.80,203.07 L553.30,203.11 L553.80,203.16 L554.30,203.20 L554.80,203.24 L555.30,203.27 L555.80,203.30 L556.30,203.33" fill="none" stroke="#f5557a" stroke-width="1.3"/>
<path d="M468.80,203.34 L469.30,203.30 L469.80,203.27 L470.30,203.23 L470.80,203.19 L471.30,203.15 L471.80,203.10 L472.30,203.05 L472.80,202.99 L473.30,202.93 L473.80,202.86 L474.30,202.79 L474.80,202.71 L475.30,202.62 L475.80,202.53 L476.30,202.42 L476.80,202.31 L477.30,202.19 L477.80,202.06 L478.30,201.92 L478.80,201.76 L479.30,201.59 L479.80,201.41 L480.30,201.21 L480.80,201.00 L481.30,200.76 L481.80,200.51 L482.30,200.23 L482.80,199.94 L483.30,199.61 L483.80,199.26 L484.30,198.88 L484.80,198.47 L485.30,198.02 L485.80,197.53 L486.30,197.01 L486.80,196.44 L487.30,195.83 L487.80,195.16 L488.30,194.45 L488.80,193.67 L489.30,192.83 L489.80,191.93 L490.30,190.96 L490.80,189.91 L491.30,188.78 L491.80,187.57 L492.30,186.27 L492.80,184.87 L493.30,183.37 L493.80,181.77 L494.30,180.05 L494.80,178.22 L495.30,176.27 L495.80,174.20 L496.30,172.00 L496.80,169.66 L497.30,167.19 L497.80,164.59 L498.30,161.85 L498.80,158.98 L499.30,155.98 L499.80,152.85 L500.30,149.59 L500.80,146.23 L501.30,142.76 L501.80,139.21 L502.30,135.58 L502.80,131.90 L503.30,128.19 L503.80,124.47 L504.30,120.76 L504.80,117.11 L505.30,113.53 L505.80,110.07 L506.30,106.75 L506.80,103.61 L507.30,100.68 L507.80,98.01 L508.30,95.62 L508.80,93.53 L509.30,91.79 L509.80,90.41 L510.30,89.41 L510.80,88.80 L511.30,88.60 L511.80,88.78 L512.30,89.31 L512.80,90.19 L513.30,91.41 L513.80,92.95 L514.30,94.79 L514.80,96.92 L515.30,99.30 L515.80,101.92 L516.30,104.75 L516.80,107.75 L517.30,110.90 L517.80,114.17 L518.30,117.54 L518.80,120.97 L519.30,124.44 L519.80,127.92 L520.30,131.41 L520.80,134.86 L521.30,138.27 L521.80,141.62 L522.30,144.90 L522.80,148.10 L523.30,151.20 L523.80,154.19 L524.30,157.08 L524.80,159.85 L525.30,162.51 L525.80,165.05 L526.30,167.47 L526.80,169.77 L527.30,171.96 L527.80,174.03 L528.30,175.99 L528.80,177.83 L529.30,179.57 L529.80,181.21 L530.30,182.75 L530.80,184.20 L531.30,185.55 L531.80,186.82 L532.30,188.01 L532.80,189.12 L533.30,190.16 L533.80,191.12 L534.30,192.03 L534.80,192.87 L535.30,193.65 L535.80,194.38 L536.30,195.06 L536.80,195.69 L537.30,196.28 L537.80,196.82 L538.30,197.33 L538.80,197.80 L539.30,198.23 L539.80,198.64 L540.30,199.01 L540.80,199.36 L541.30,199.69 L541.80,199.98 L542.30,200.26 L542.80,200.52 L543.30,200.76 L543.80,200.98 L544.30,201.18 L544.80,201.37 L545.30,201.54 L545.80,201.71 L546.30,201.86 L546.80,201.99 L547.30,202.12 L547.80,202.24 L548.30,202.35 L548.80,202.45 L549.30,202.55 L549.80,202.63 L550.30,202.71 L550.80,202.79 L551.30,202.86 L551.80,202.92 L552.30,202.98 L552.80,203.03 L553.30,203.08 L553.80,203.13 L554.30,203.17 L554.80,203.21 L555.30,203.25 L555.80,203.28 L556.30,203.32 L556.80,203.34" fill="none" stroke="#3f7fef" stroke-width="1.3"/>
<path d="M355.30,203.70 L447.80,203.68 L448.30,203.68 L448.80,203.68 L449.30,203.68 L449.80,203.67 L450.30,203.67 L450.80,203.67 L451.30,203.67 L451.80,203.66 L452.30,203.66 L452.80,203.66 L453.30,203.65 L453.80,203.65 L454.30,203.64 L454.80,203.64 L455.30,203.63 L455.80,203.63 L456.30,203.62 L456.80,203.61 L457.30,203.61 L457.80,203.60 L458.30,203.59 L458.80,203.58 L459.30,203.57 L459.80,203.56 L460.30,203.55 L460.80,203.53 L461.30,203.52 L461.80,203.50 L462.30,203.49 L462.80,203.47 L463.30,203.45 L463.80,203.42 L464.30,203.40 L464.80,203.37 L465.30,203.34 L465.80,203.31 L466.30,203.28 L466.80,203.24 L467.30,203.20 L467.80,203.16 L468.30,203.11 L468.80,203.06 L469.30,203.00 L469.80,202.94 L470.30,202.88 L470.80,202.81 L471.30,202.73 L471.80,202.64 L472.30,202.55 L472.80,202.45 L473.30,202.34 L473.80,202.22 L474.30,202.09 L474.80,201.95 L475.30,201.80 L475.80,201.64 L476.30,201.46 L476.80,201.26 L477.30,201.05 L477.80,200.82 L478.30,200.57 L478.80,200.30 L479.30,200.00 L479.80,199.68 L480.30,199.34 L480.80,198.96 L481.30,198.55 L481.80,198.11 L482.30,197.63 L482.80,197.11 L483.30,196.54 L483.80,195.93 L484.30,195.27 L484.80,194.56 L485.30,193.78 L485.80,192.94 L486.30,192.04 L486.80,191.06 L487.30,190.00 L487.80,188.86 L488.30,187.63 L488.80,186.31 L489.30,184.89 L489.80,183.35 L490.30,181.70 L490.80,179.93 L491.30,178.04 L491.80,176.01 L492.30,173.83 L492.80,171.51 L493.30,169.04 L493.80,166.40 L494.30,163.60 L494.80,160.64 L495.30,157.49 L495.80,154.18 L496.30,150.68 L496.80,147.02 L497.30,143.17 L497.80,139.16 L498.30,134.99 L498.80,130.67 L499.30,126.21 L499.80,121.63 L500.30,116.94 L500.80,112.18 L501.30,107.36 L501.80,102.52 L502.30,97.68 L502.80,92.90 L503.30,88.20 L503.80,83.62 L504.30,79.22 L504.80,75.04 L505.30,71.11 L505.80,67.50 L506.30,64.23 L506.80,61.35 L507.30,58.91 L507.80,56.92 L508.30,55.41 L508.80,54.42 L509.30,53.94 L509.80,53.98 L510.30,54.49 L510.80,55.46 L511.30,56.87 L511.80,58.71 L512.30,60.95 L512.80,63.58 L513.30,66.55 L513.80,69.84 L514.30,73.41 L514.80,77.23 L515.30,81.26 L515.80,85.46 L516.30,89.80 L516.80,94.23 L517.30,98.73 L517.80,103.26 L518.30,107.80 L518.80,112.31 L519.30,116.78 L519.80,121.18 L520.30,125.48 L520.80,129.69 L521.30,133.77 L521.80,137.72 L522.30,141.54 L522.80,145.21 L523.30,148.73 L523.80,152.10 L524.30,155.31 L524.80,158.37 L525.30,161.27 L525.80,164.02 L526.30,166.63 L526.80,169.09 L527.30,171.41 L527.80,173.60 L528.30,175.65 L528.80,177.58 L529.30,179.39 L529.80,181.09 L530.30,182.67 L530.80,184.16 L531.30,185.54 L531.80,186.84 L532.30,188.05 L532.80,189.17 L533.30,190.22 L533.80,191.20 L534.30,192.11 L534.80,192.95 L535.30,193.74 L535.80,194.47 L536.30,195.15 L536.80,195.78 L537.30,196.36 L537.80,196.91 L538.30,197.41 L538.80,197.88 L539.30,198.31 L539.80,198.71 L540.30,199.08 L540.80,199.43 L541.30,199.75 L541.80,200.04 L542.30,200.32 L542.80,200.57 L543.30,200.80 L543.80,201.02 L544.30,201.22 L544.80,201.41 L545.30,201.58 L545.80,201.74 L546.30,201.89 L546.80,202.02 L547.30,202.15 L547.80,202.27 L548.30,202.38 L548.80,202.48 L549.30,202.57 L549.80,202.65 L550.30,202.73 L550.80,202.81 L551.30,202.87 L551.80,202.94 L552.30,202.99 L552.80,203.05 L553.30,203.10 L553.80,203.14 L554.30,203.18 L554.80,203.22 L555.30,203.26 L555.80,203.29 L556.30,203.32 L556.80,203.35 L557.30,203.38 L557.80,203.40 L558.30,203.42 L558.80,203.45 L559.30,203.46 L559.80,203.48 L560.30,203.50 L560.80,203.51 L561.30,203.53 L561.80,203.54 L562.30,203.55 L562.80,203.56 L563.30,203.57 L563.80,203.58 L564.30,203.59 L564.80,203.60 L565.30,203.61 L565.80,203.62 L566.30,203.62 L566.80,203.63 L567.30,203.63 L567.80,203.64 L568.30,203.64 L568.80,203.65 L569.30,203.65 L569.80,203.65 L570.30,203.66 L570.80,203.66 L571.30,203.66 L571.80,203.67 L572.30,203.67 L572.80,203.67 L573.30,203.67 L573.80,203.68 L574.30,203.68 L574.80,203.68 L575.30,203.68 L646.30,203.70" fill="none" stroke="#3cef5e" stroke-width="1.3"/>
<text transform="translate(360.69,18.70) scale(1.0520,1)" font-size="9.7" style="stroke-width:0.42px">θ=0.<tspan font-family="IPAGothic, 'Liberation Sans', sans-serif">1</tspan>5</text>
<line x1="394.1" y1="15.60" x2="416.6" y2="15.60" stroke="#4a4a4a" stroke-width="1.3"/>
<text transform="translate(360.70,31.97) scale(1.0344,1)" font-size="9.7" style="stroke-width:0.42px">θ=0.25</text>
<line x1="394.1" y1="28.87" x2="416.6" y2="28.87" stroke="#f27a96" stroke-width="1.8"/>
<text transform="translate(360.70,45.24) scale(1.0344,1)" font-size="9.7" style="stroke-width:0.42px">θ=0.35</text>
<line x1="394.1" y1="42.14" x2="416.6" y2="42.14" stroke="#4a8af0" stroke-width="1.2"/>
<text transform="translate(360.70,58.51) scale(1.0344,1)" font-size="9.7" style="stroke-width:0.42px">θ=0.45</text>
<line x1="394.1" y1="55.41" x2="416.6" y2="55.41" stroke="#45e568" stroke-width="1.2"/>
</svg>
</body></html>
